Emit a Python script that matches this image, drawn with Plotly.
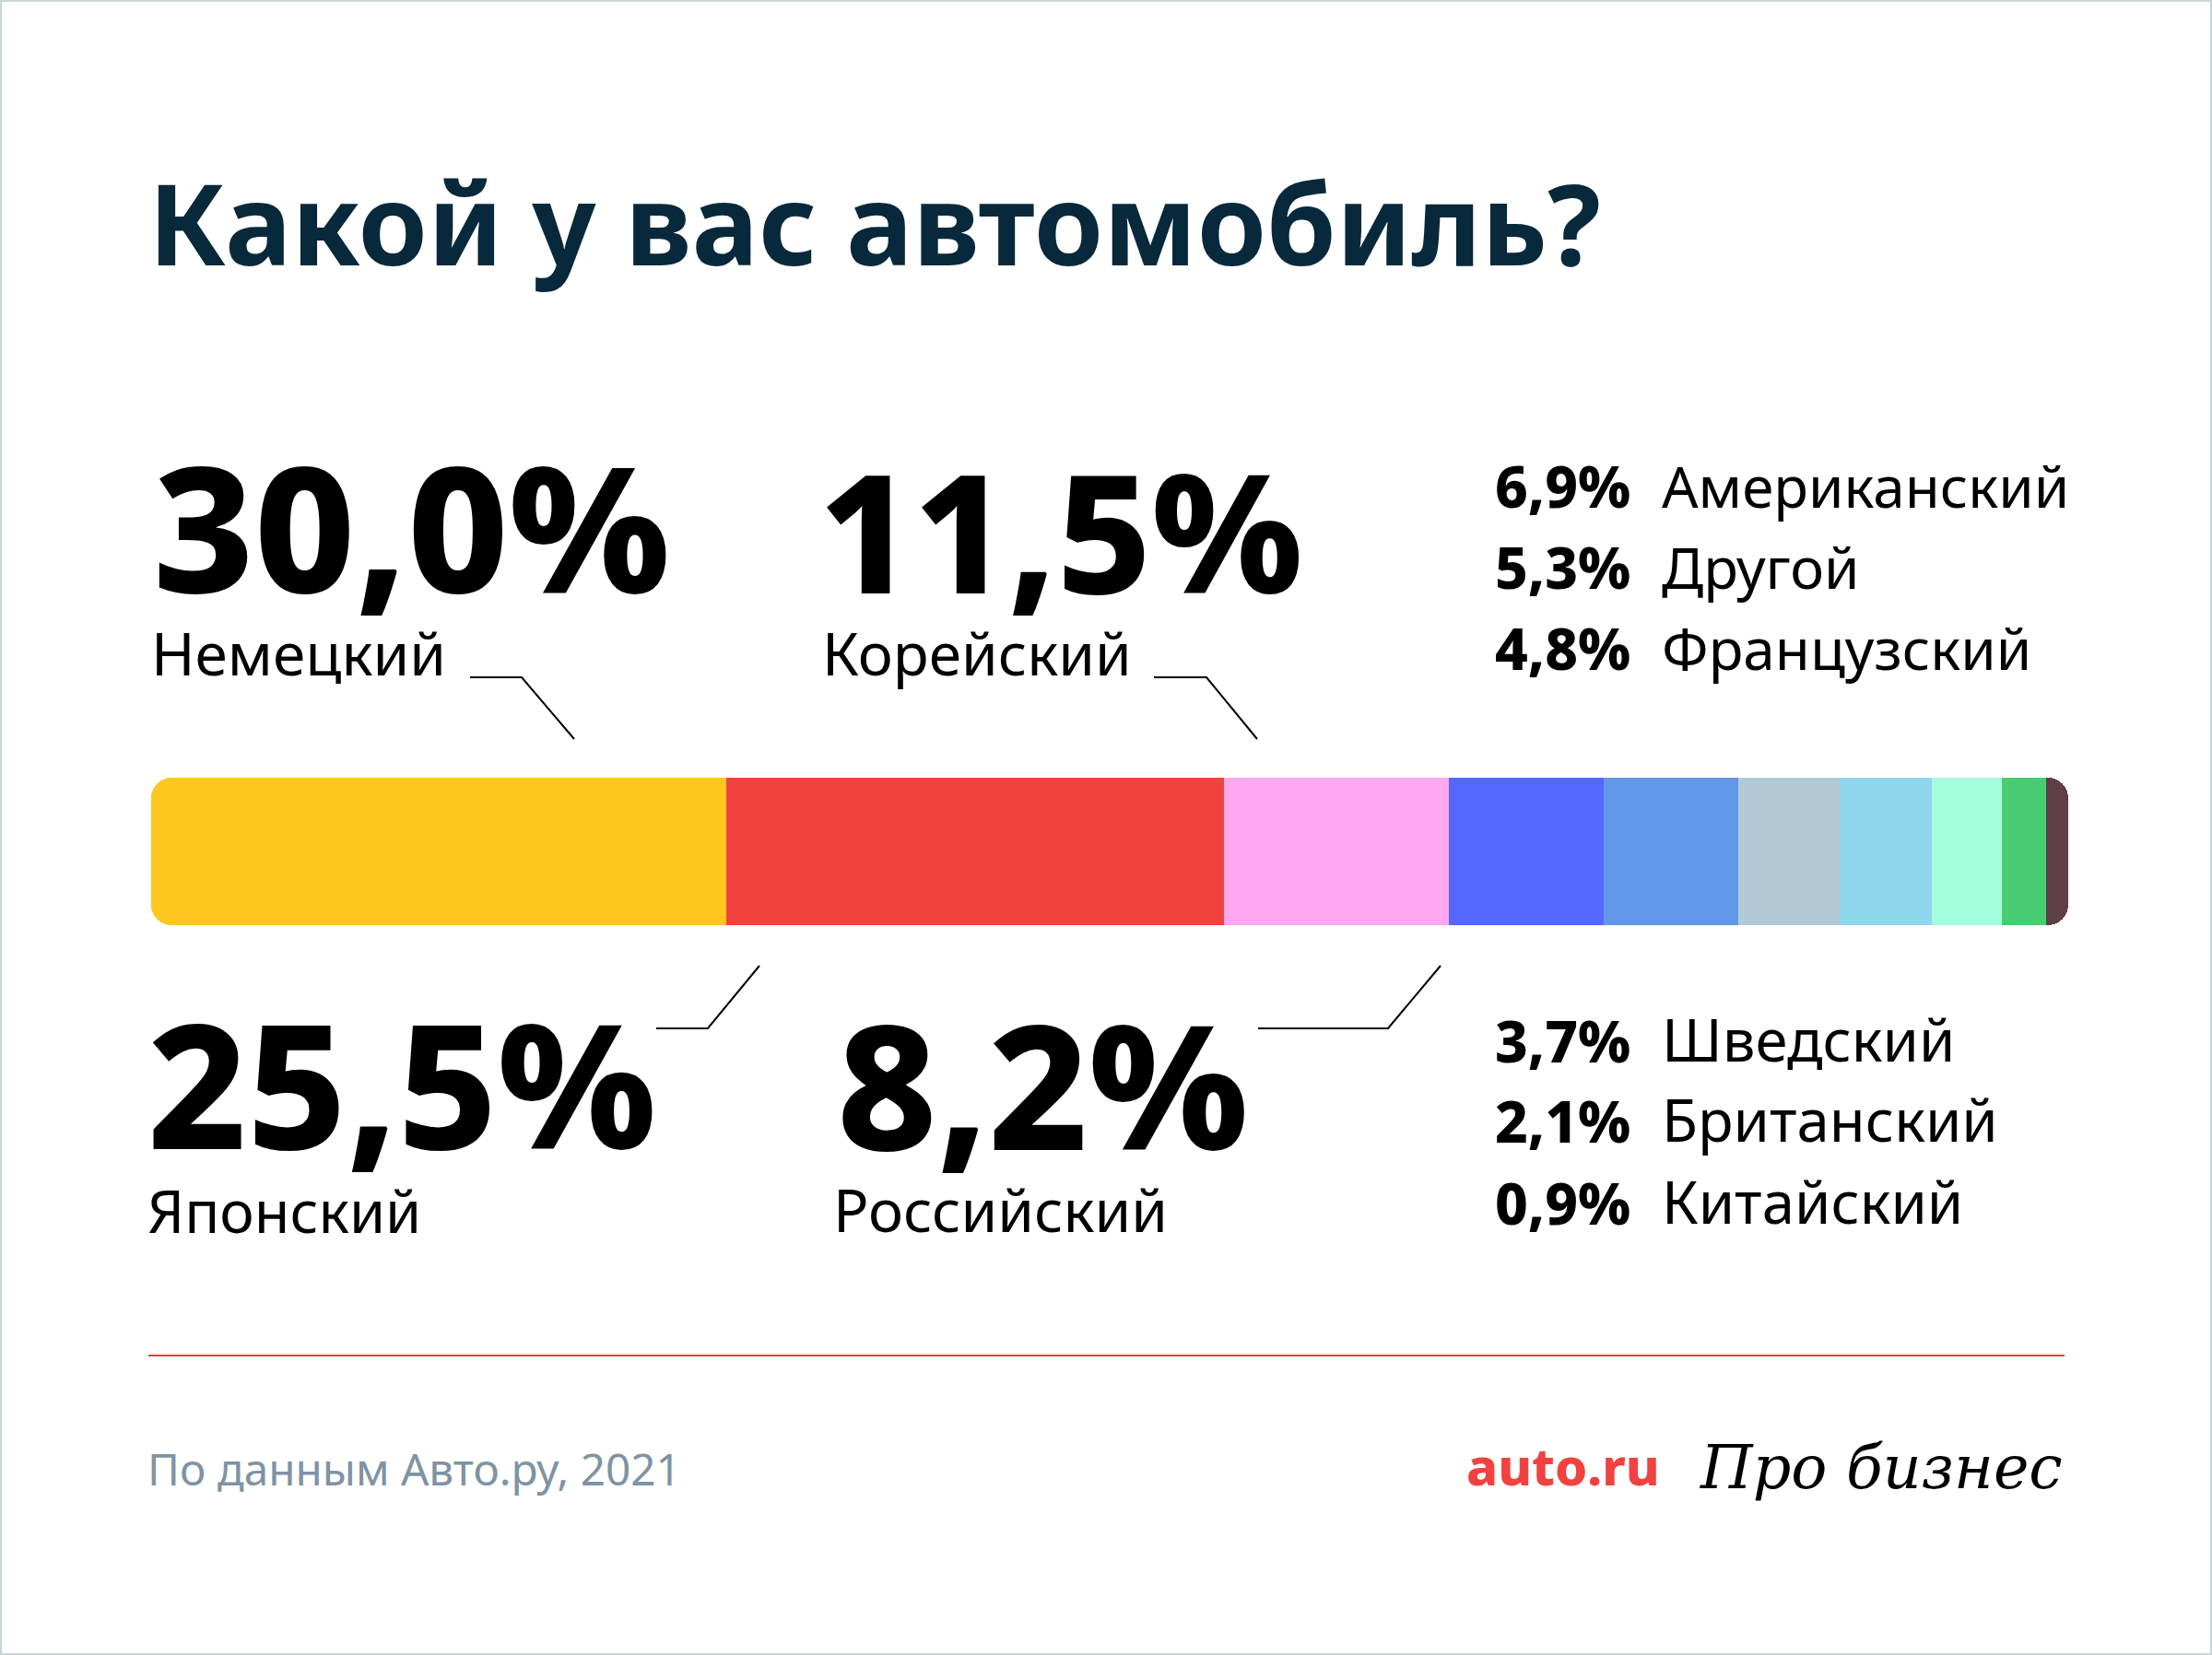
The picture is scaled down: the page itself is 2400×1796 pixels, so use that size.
import plotly.graph_objects as go

W, H = 2400, 1796

# Data
categories = ["Немецкий", "Японский", "Корейский", "Российский", "Американский",
              "Другой", "Французский", "Шведский", "Британский", "Китайский"]
share_labels = ["30,0%", "25,5%", "11,5%", "8,2%", "6,9%", "5,3%", "4,8%", "3,7%", "2,1%", "0,9%"]
# segment lengths (scale 0-100)
segment_lengths = [30.0, 25.94, 11.75, 8.08, 7.02, 5.29, 4.81, 3.65, 2.31, 1.15]
segment_colors = ["#FFC720", "#F24240", "#FFA8F2", "#5467FF", "#6297E8",
                  "#B3CAD6", "#8FD6EF", "#A5FFDC", "#48CC72", "#5E3F45"]

FONT = "Noto Sans"
INK = "#000000"

fig = go.Figure()
# The first segment runs left from the axis zero, the others stack rightwards,
# so that only the two outer ends of the bar get round corners.
for i, (name, length, color) in enumerate(zip(categories, segment_lengths, segment_colors)):
    first = i == 0
    last = i == len(categories) - 1
    fig.add_trace(go.Bar(
        y=["share"], x=[-length] if first else [length],
        orientation="h", name=name, width=1,
        marker=dict(color=color, line_width=0, cornerradius=22 if (first or last) else 0),
        hoverinfo="name",
    ))


def px(x):
    return x / W


def py(y):
    return 1 - y / H


def text(s, x, baseline, size, color=INK, weight=400, family=FONT, style="normal"):
    fig.add_annotation(
        text=s, xref="paper", yref="paper", x=px(x), y=py(baseline + 0.27 * size),
        xanchor="left", yanchor="bottom", showarrow=False, borderpad=0, borderwidth=0,
        font=dict(family=family, size=size, color=color, weight=weight, style=style),
    )


def polyline(points, color="#000000", width=2):
    path = "M " + " L ".join(f"{px(a)} {py(b)}" for a, b in points)
    fig.add_shape(type="path", path=path, xref="paper", yref="paper",
                  line=dict(color=color, width=width))


text("Какой у вас автомобиль?", 161, 291, 121.4, color="#08293B", weight=700)

big_rows = [(0, 166, 648, 190), (2, 888, 648, 178),
            (1, 160, 1252, 187), (3, 908, 1252, 188)]
for idx, x, base, size in big_rows:
    text(share_labels[idx], x, base, size, weight=800)

text(categories[0], 164, 735, 64)
text(categories[2], 892, 735, 64)
text(categories[1], 160, 1339, 63)
text(categories[3], 904, 1339, 64)

list_rows = [(4, 552, 62), (5, 640, 62), (6, 728, 62), (7, 1154, 63.5), (8, 1241, 63.5), (9, 1330, 63.5)]
for idx, base, size in list_rows:
    text(share_labels[idx], 1622, base, 62, weight=800)
    text(categories[idx], 1803, base, size)

polyline([(510, 735), (566, 735), (623, 802)])
polyline([(1252, 735), (1309, 735), (1364, 802)])
polyline([(712, 1116), (768, 1116), (824, 1048)])
polyline([(1365, 1116), (1506, 1116), (1563, 1048)])
polyline([(161, 1471), (2240, 1471)], color="#E53E40", width=2)

text("По данным Авто.ру, 2021", 160, 1613, 47.7, color="#7F93A3")
text("auto.ru", 1591, 1613, 56, color="#F24240", weight=800)
text("Про бизнес", 1844, 1612, 65, family="DejaVu Serif", style="italic")

fig.add_shape(type="rect", xref="paper", yref="paper", x0=px(1), x1=px(W - 1), y0=py(H - 1), y1=py(1),
              line=dict(color="#C9D6D6", width=2))

fig.update_layout(
    width=W, height=H, margin=dict(l=0, r=0, t=0, b=0, pad=0), paper_bgcolor="white",
    plot_bgcolor="white", barmode="relative", bargap=0, showlegend=False,
    xaxis=dict(domain=[px(164), px(2244)], range=[-segment_lengths[0], 100 - segment_lengths[0]],
               visible=False, fixedrange=True),
    yaxis=dict(domain=[py(1004), py(844)], visible=False, fixedrange=True),
)
fig.write_html("out.html", config={"displayModeBar": False},
               post_script="document.body.style.margin='0';")
